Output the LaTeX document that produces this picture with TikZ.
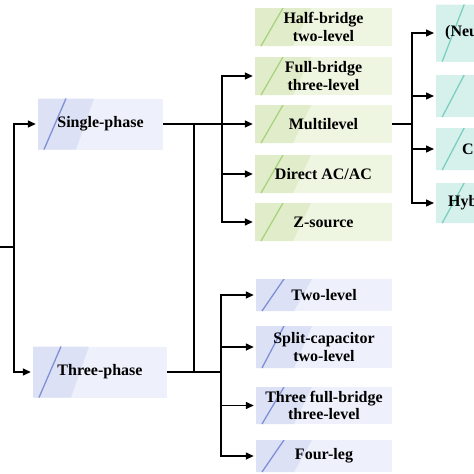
\documentclass[tikz,border=0pt]{standalone}
\usepackage{fontspec}
\setmainfont{Liberation Serif}
\usetikzlibrary{arrows.meta}
\definecolor{bluebg}{HTML}{EEF1FB}
\definecolor{bluedk}{HTML}{DCE1F6}
\definecolor{blueln}{HTML}{7F90D6}
\definecolor{greenbg}{HTML}{EEF5E0}
\definecolor{greendk}{HTML}{E1EDCA}
\definecolor{greenln}{HTML}{A8D37D}
\definecolor{tealbg}{HTML}{E4F6F3}
\definecolor{tealdk}{HTML}{D6F1EC}
\definecolor{tealln}{HTML}{7BCFC2}
\tikzset{
  catbox/.style n args={3}{fill=#1, align=center, inner sep=0pt,
    font=\bfseries\fontsize{16}{17.5}\selectfont,
    path picture={
      \fill[#2] (path picture bounding box.north west)
        -- ([xshift=56pt]path picture bounding box.north west)
        -- ([xshift=38pt]path picture bounding box.south west)
        -- (path picture bounding box.south west) -- cycle;
      \draw[#3, line width=1.3pt] ([xshift=28pt]path picture bounding box.north west)
        -- ([xshift=6pt]path picture bounding box.south west);% the slash
    }},
  bluebox/.style={catbox={bluebg}{bluedk}{blueln}, minimum width=136pt},
  greenbox/.style={catbox={greenbg}{greendk}{greenln}, minimum width=137pt, minimum height=38pt},
  tealbox/.style={catbox={tealbg}{tealdk}{tealln}, anchor=west, align=left},
  link/.style={line width=1.4pt},
  arr/.style={link, -{Triangle[length=8pt,width=7pt]}, shorten >=2pt}
}
\begin{document}
\begin{tikzpicture}[x=1pt,y=-1pt]
  \useasboundingbox (0,0) rectangle (474,474);
  \clip (0,0) rectangle (474,474);

  % first level
  \node[bluebox, minimum width=125pt, minimum height=51pt] (single) at (100.5,124) {Single-phase};
  \node[bluebox, minimum width=134pt, minimum height=51pt] (three) at (100,372) {Three-phase};

  % single-phase topologies
  \node[greenbox] (half) at (323.5,27) {Half-bridge\\two-level};
  \node[greenbox] (full) at (323.5,76) {Full-bridge\\three-level};
  \node[greenbox] (multi) at (323.5,124) {Multilevel};
  \node[greenbox] (direct) at (323.5,174) {Direct AC/AC};
  \node[greenbox] (zsrc) at (323.5,222) {Z-source};

  % three-phase topologies
  \node[bluebox, minimum height=32pt] (twolev) at (324,295) {Two-level};
  \node[bluebox, minimum height=42pt] (split) at (324,347) {Split-capacitor\\two-level};
  \node[bluebox, minimum height=37pt] (tfb) at (324,405.5) {Three full-bridge\\three-level};
  \node[bluebox, minimum height=32pt] (fourleg) at (324,456) {Four-leg};

  % multilevel types (cut by the right edge)
  \node[tealbox, minimum height=57pt, inner xsep=9pt] (npc) at (436,33) {(Neutral-point};
  \node[tealbox, minimum height=42pt, minimum width=100pt] (fc) at (436,96) {};
  \node[tealbox, minimum height=42pt, inner xsep=26pt] (chb) at (436,149) {Cascaded};
  \node[tealbox, minimum height=40pt, inner xsep=12pt] (hyb) at (436,203) {Hybrid};

  % junctions
  \coordinate (root) at (0,247);
  \coordinate (rj) at (14,247);
  \coordinate (sj) at (194,124);
  \coordinate (tj) at (194,372);
  \coordinate (gbar) at (222,124);
  \coordinate (bbar) at (221,372);
  \coordinate (mbar) at (412,124);

  \draw[link] (root) -- (rj);
  \draw[arr] (rj) |- (single.west);
  \draw[arr] (rj) |- (three.west);

  \draw[arr] (single.east) -- (multi.west);
  \draw[link] (sj) -- (tj);
  \draw[arr] (gbar) |- (full.west);
  \draw[arr] (gbar) |- (direct.west);
  \draw[arr] (gbar) |- (zsrc.west);

  \draw[link, line width=2pt] (three.east) -- (bbar);
  \draw[arr] (bbar) |- (twolev.west);
  \draw[arr] (bbar) |- (split.west);
  \draw[arr] (bbar) |- (tfb.west);
  \draw[arr] (bbar) |- (fourleg.west);

  \draw[link] (multi.east) -- (mbar);
  \foreach \t in {npc,fc,chb,hyb}
    \draw[arr] (mbar) |- (\t.west);
\end{tikzpicture}
\end{document}
